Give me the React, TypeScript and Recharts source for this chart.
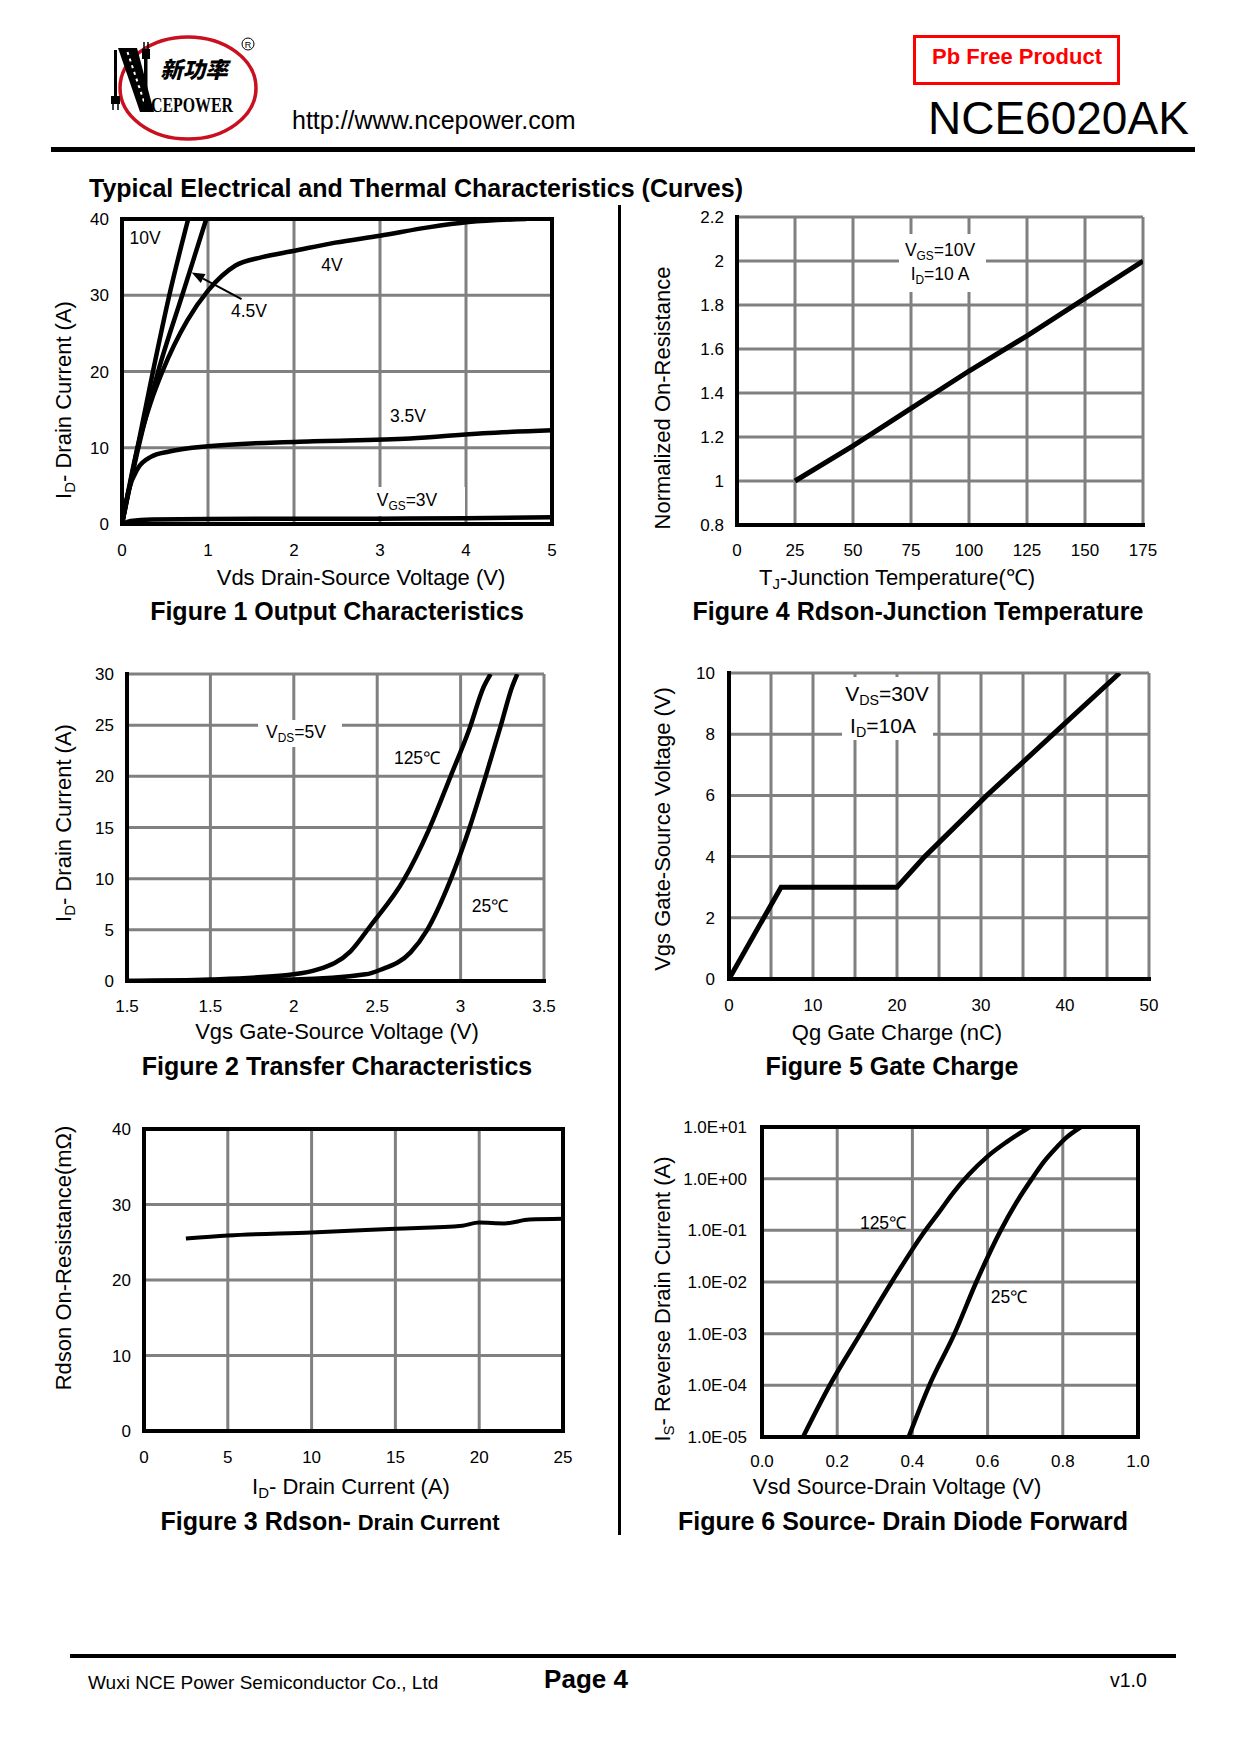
import React from 'react';
import { LineChart, Line, XAxis, YAxis, CartesianGrid, ReferenceLine } from 'recharts';

const FONT = '"Liberation Sans", Arial, Helvetica, sans-serif';

// ---------- Figure 1: Output Characteristics ----------
const f1XTicks = [0, 1, 2, 3, 4, 5];
const f1XLabels = ['0', '1', '2', '3', '4', '5'];
const f1YTicks = [0, 10, 20, 30, 40];
const f1YLabels = ['0', '10', '20', '30', '40'];
const f1Vds10V = [0, 0.18, 0.36, 0.55, 0.77];
const f1Id10V = [0, 10, 20, 30, 40];
const f1Vds45V = [0, 0.19, 0.42, 0.7, 0.98];
const f1Id45V = [0, 10, 20, 30, 40];
const f1Vds4V = [0, 0.18, 0.33, 0.47, 0.76, 1.0, 1.32, 1.63, 1.99, 2.48, 3.0, 3.56, 4.03, 4.7];
const f1Id4V = [0, 10, 15.8, 20, 26.7, 30.6, 33.9, 35, 35.8, 36.9, 37.8, 38.9, 39.6, 40];
const f1Vds35V = [0, 0.077, 0.185, 0.335, 0.55, 1.0, 2.06, 3.35, 4.2, 5];
const f1Id35V = [0, 4.4, 7.3, 8.8, 9.5, 10.2, 10.8, 11.2, 11.9, 12.3];
const f1Vds3V = [0, 0.1, 0.35, 1, 2, 3, 4, 5];
const f1Id3V = [0, 0.4, 0.6, 0.65, 0.7, 0.7, 0.75, 0.9];
const f1Arrow = [{ x: 1.39, y: 29.5 }, { x: 0.81, y: 33 }];

// ---------- Figure 4: Rdson vs Junction Temperature ----------
const f4XTicks = [0, 25, 50, 75, 100, 125, 150, 175];
const f4XLabels = ['0', '25', '50', '75', '100', '125', '150', '175'];
const f4YTicks = [0.8, 1.0, 1.2, 1.4, 1.6, 1.8, 2.0, 2.2];
const f4YLabels = ['0.8', '1', '1.2', '1.4', '1.6', '1.8', '2', '2.2'];
const f4Tj = [25, 50, 75, 100, 125, 150, 175];
const f4Rn = [1.0, 1.16, 1.33, 1.5, 1.66, 1.83, 2.0];

// ---------- Figure 2: Transfer Characteristics ----------
const f2XTicks = [1.0, 1.5, 2.0, 2.5, 3.0, 3.5];
const f2XLabels = ['1.5', '1.5', '2', '2.5', '3', '3.5'];
const f2YTicks = [0, 5, 10, 15, 20, 25, 30];
const f2YLabels = ['0', '5', '10', '15', '20', '25', '30'];
const f2Vgs125 = [1.0, 1.5, 2.0, 2.14, 2.34, 2.46, 2.66, 2.81, 2.94, 3.05, 3.14, 3.18];
const f2Id125 = [0, 0.15, 0.65, 1.1, 2.9, 5.4, 9.9, 14.8, 20, 24.5, 28.8, 30];
const f2Vgs25 = [1.0, 2.0, 2.43, 2.52, 2.7, 2.8, 2.94, 3.05, 3.15, 3.24, 3.31, 3.34];
const f2Id25 = [0, 0.15, 0.65, 1.1, 2.8, 5.0, 9.9, 14.8, 20, 24.9, 28.8, 30];

// ---------- Figure 5: Gate Charge ----------
const f5XTicks = [0, 5, 10, 15, 20, 25, 30, 35, 40, 45, 50];
const f5XLabels = ['0', '', '10', '', '20', '', '30', '', '40', '', '50'];
const f5YTicks = [0, 2, 4, 6, 8, 10];
const f5YLabels = ['0', '2', '4', '6', '8', '10'];
const f5Qg = [0, 6.2, 20, 23.3, 30.7, 38.6, 46.5];
const f5Vgs = [0, 3, 3, 4, 6, 8, 10];

// ---------- Figure 3: Rdson vs Drain Current ----------
const f3XTicks = [0, 5, 10, 15, 20, 25];
const f3XLabels = ['0', '5', '10', '15', '20', '25'];
const f3YTicks = [0, 10, 20, 30, 40];
const f3YLabels = ['0', '10', '20', '30', '40'];
const f3Id = [2.5, 5, 10, 15, 19, 20, 21.5, 23, 25];
const f3Rds = [25.5, 25.9, 26.3, 26.8, 27.2, 27.6, 27.5, 28.0, 28.1];

// ---------- Figure 6: Source-Drain Diode Forward ----------
const f6XTicks = [0, 0.2, 0.4, 0.6, 0.8, 1.0];
const f6XLabels = ['0.0', '0.2', '0.4', '0.6', '0.8', '1.0'];
const f6YTicks = [1e-5, 1e-4, 1e-3, 1e-2, 1e-1, 1, 10];
const f6YLabels = ['1.0E-05', '1.0E-04', '1.0E-03', '1.0E-02', '1.0E-01', '1.0E+00', '1.0E+01'];
const f6Vsd125 = [0.109, 0.18, 0.262, 0.345, 0.43, 0.47, 0.51, 0.55, 0.6, 0.65, 0.712];
const f6Is125 = [1e-5, 1e-4, 1e-3, 1e-2, 0.09, 0.22, 0.55, 1.2, 2.7, 5.1, 10];
const f6Vsd25 = [0.39, 0.445, 0.512, 0.57, 0.635, 0.677, 0.718, 0.75, 0.78, 0.81, 0.848];
const f6Is25 = [1e-5, 1e-4, 1e-3, 1e-2, 0.1, 0.35, 1, 2.14, 3.8, 6.3, 10];

const pts = (xs: number[], ys: number[]) => xs.map((x, i) => ({ x, y: ys[i] }));

const labeler = (ticks: number[], labels: string[]) => (v: number) => {
  const i = ticks.findIndex((t) => Math.abs(t - v) <= Math.abs(t) * 1e-6 + 1e-12);
  return i >= 0 ? labels[i] : '';
};

const ArrowShape = (p: any) => {
  const { x1, y1, x2, y2 } = p;
  if ([x1, y1, x2, y2].some((v) => typeof v !== 'number' || isNaN(v))) return <g />;
  const a = Math.atan2(y2 - y1, x2 - x1);
  const L = 13;
  const W = 5;
  const bx = x2 - L * Math.cos(a);
  const by = y2 - L * Math.sin(a);
  const ptsStr = `${x2},${y2} ${bx + W * Math.sin(a)},${by - W * Math.cos(a)} ${bx - W * Math.sin(a)},${by + W * Math.cos(a)}`;
  return (
    <g>
      <line x1={x1} y1={y1} x2={bx} y2={by} stroke="#000" strokeWidth={2} />
      <polygon points={ptsStr} fill="#000" />
    </g>
  );
};

type Series = { xs: number[]; ys: number[]; width?: number; curve?: 'monotone' | 'linear' };
type PlotProps = {
  rect: { l: number; t: number; r: number; b: number };
  xDomain: [number, number];
  xTicks: number[];
  xLabels: string[];
  yDomain: [number, number];
  yTicks: number[];
  yLabels: string[];
  yLog?: boolean;
  series: Series[];
  blackTop?: boolean;
  blackRight?: boolean;
  xGap: number;
  yGap: number;
  arrow?: { x: number; y: number }[];
};

function Plot(p: PlotProps) {
  const YW = 90;
  const MT = 14;
  const MR = 30;
  const XH = 50;
  const w = YW + (p.rect.r - p.rect.l) + MR;
  const h = MT + (p.rect.b - p.rect.t) + XH;
  const tickStyle = { fill: '#000', fontSize: 17, fontFamily: FONT };
  const axisLine = { stroke: '#000', strokeWidth: 4, strokeLinecap: 'square' as const };
  return (
    <div style={{ position: 'absolute', left: p.rect.l - YW, top: p.rect.t - MT }}>
      <LineChart width={w} height={h} margin={{ top: MT, right: MR, bottom: 0, left: 0 }}>
        <CartesianGrid stroke="#808080" strokeWidth={3} fill="none" />
        <XAxis
          type="number"
          dataKey="x"
          domain={p.xDomain}
          ticks={p.xTicks}
          interval={0}
          allowDataOverflow
          height={XH}
          tickSize={0}
          tickMargin={p.xGap}
          tickLine={false}
          axisLine={axisLine}
          tick={tickStyle}
          tickFormatter={labeler(p.xTicks, p.xLabels)}
        />
        <YAxis
          type="number"
          scale={p.yLog ? 'log' : 'linear'}
          domain={p.yDomain}
          ticks={p.yTicks}
          interval={0}
          allowDataOverflow
          width={YW}
          tickSize={0}
          tickMargin={p.yGap}
          tickLine={false}
          axisLine={axisLine}
          tick={tickStyle}
          tickFormatter={labeler(p.yTicks, p.yLabels)}
        />
        {p.series.map((s, i) => (
          <Line
            key={i}
            data={pts(s.xs, s.ys)}
            dataKey="y"
            type={s.curve ?? 'monotone'}
            stroke="#000"
            strokeWidth={s.width ?? 4.5}
            dot={false}
            activeDot={false}
            isAnimationActive={false}
          />
        ))}
        {p.blackTop && <ReferenceLine y={p.yDomain[1]} stroke="#000" strokeWidth={4} strokeLinecap="square" />}
        {p.blackRight && <ReferenceLine x={p.xDomain[1]} stroke="#000" strokeWidth={4} strokeLinecap="square" />}
        {p.arrow && <ReferenceLine segment={p.arrow} shape={ArrowShape} />}
      </LineChart>
    </div>
  );
}

type TProps = {
  x: number;
  y: number;
  size?: number;
  bold?: boolean;
  anchor?: 'start' | 'middle' | 'end';
  color?: string;
  rotate?: boolean;
  children: React.ReactNode;
};

function T({ x, y, size = 17.5, bold = false, anchor = 'middle', color = '#000', rotate = false, children }: TProps) {
  const tx = anchor === 'start' ? '0' : anchor === 'end' ? '-100%' : '-50%';
  return (
    <div
      style={{
        position: 'absolute',
        left: x,
        top: y,
        transform: `translate(${tx}, -50%)${rotate ? ' rotate(-90deg)' : ''}`,
        whiteSpace: 'nowrap',
        lineHeight: 1,
        fontSize: size,
        fontWeight: bold ? 'bold' : 'normal',
        color,
        fontFamily: FONT,
      }}
    >
      {children}
    </div>
  );
}

const Sub = ({ c }: { c: string }) => (
  <span style={{ fontSize: '0.68em', position: 'relative', top: '0.3em' }}>{c}</span>
);

const WhiteBox = ({ x1, y1, x2, y2 }: { x1: number; y1: number; x2: number; y2: number }) => (
  <div style={{ position: 'absolute', left: x1, top: y1, width: x2 - x1, height: y2 - y1, background: '#fff' }} />
);

const Bar = ({ x, y, w, h }: { x: number; y: number; w: number; h: number }) => (
  <div style={{ position: 'absolute', left: x, top: y, width: w, height: h, background: '#000' }} />
);

function Logo() {
  return (
    <svg width={170} height={115} style={{ position: 'absolute', left: 100, top: 30 }}>
      <ellipse cx={88} cy={58} rx={68} ry={51} fill="none" stroke="#c8101e" strokeWidth={3.5} />
      <polygon points="18,18 37,18 54,82 40,82" fill="#000" />
      <line x1={27.5} y1={22} x2={46.5} y2={79} stroke="#fff" strokeWidth={2} strokeDasharray="3 4" />
      <line x1={15.5} y1={20} x2={15.5} y2={67} stroke="#000" strokeWidth={3} />
      <rect x={11} y={66} width={9} height={8} fill="#000" />
      <line x1={13} y1={74} x2={13} y2={80} stroke="#000" strokeWidth={1.5} />
      <line x1={18} y1={74} x2={18} y2={80} stroke="#000" strokeWidth={1.5} />
      <rect x={44} y={28} width={3.5} height={54} fill="#000" />
      <rect x={42} y={19} width={8} height={10} fill="#000" />
      <line x1={44} y1={12} x2={44} y2={19} stroke="#000" strokeWidth={1.5} />
      <line x1={48} y1={12} x2={48} y2={19} stroke="#000" strokeWidth={1.5} />
      <text
        x={94}
        y={48}
        fontSize={22.5}
        fontWeight={900}
        fontStyle="italic"
        textAnchor="middle"
        fontFamily='"Noto Sans CJK SC", sans-serif'
        fill="#000"
      >
        新功率
      </text>
      <text
        x={51}
        y={82}
        fontSize={22}
        fontWeight="bold"
        textLength={82}
        lengthAdjust="spacingAndGlyphs"
        fontFamily='"Liberation Serif", serif'
        fill="#000"
      >
        CEPOWER
      </text>
      <circle cx={148} cy={14} r={6} fill="none" stroke="#000" strokeWidth={1} />
      <text x={148} y={17.5} fontSize={9} textAnchor="middle" fontFamily={FONT} fill="#000">
        R
      </text>
    </svg>
  );
}

export default function App() {
  return (
    <div
      style={{
        position: 'absolute',
        left: 0,
        top: 0,
        width: 1240,
        height: 1754,
        background: '#fff',
        fontFamily: FONT,
        overflow: 'hidden',
      }}
    >
      {/* Header */}
      <Logo />
      <T x={292} y={120} size={25} anchor="start">http://www.ncepower.com</T>
      <div
        style={{
          position: 'absolute',
          left: 913,
          top: 35,
          width: 207,
          height: 50,
          border: '3px solid #ff0000',
          boxSizing: 'border-box',
        }}
      />
      <T x={1017} y={57} size={22} bold color="#ff0000">Pb Free Product</T>
      <T x={928} y={118} size={46} anchor="start">NCE6020AK</T>
      <Bar x={51} y={147} w={1144} h={4.5} />

      <T x={89} y={188} size={25} bold anchor="start">
        Typical Electrical and Thermal Characteristics (Curves)
      </T>
      <Bar x={618.3} y={205} w={2.5} h={1330} />

      {/* Figure 1 */}
      <Plot
        rect={{ l: 122, t: 219, r: 552, b: 524 }}
        xDomain={[0, 5]}
        xTicks={f1XTicks}
        xLabels={f1XLabels}
        yDomain={[0, 40]}
        yTicks={f1YTicks}
        yLabels={f1YLabels}
        series={[
          { xs: f1Vds10V, ys: f1Id10V },
          { xs: f1Vds45V, ys: f1Id45V },
          { xs: f1Vds4V, ys: f1Id4V },
          { xs: f1Vds35V, ys: f1Id35V },
          { xs: f1Vds3V, ys: f1Id3V },
        ]}
        blackTop
        blackRight
        xGap={20}
        yGap={13}
        arrow={f1Arrow}
      />
      <T x={145} y={239}>10V</T>
      <T x={332} y={266}>4V</T>
      <T x={249} y={312}>4.5V</T>
      <T x={408} y={417}>3.5V</T>
      <WhiteBox x1={371} y1={487} x2={465} y2={516} />
      <T x={407} y={501}>
        V<Sub c="GS" />=3V
      </T>
      <T x={64} y={400} size={22} rotate>
        I<Sub c="D" />- Drain Current (A)
      </T>
      <T x={361} y={578} size={22}>Vds Drain-Source Voltage (V)</T>
      <T x={337} y={611} size={25} bold>Figure 1 Output Characteristics</T>

      {/* Figure 4 */}
      <Plot
        rect={{ l: 737, t: 217, r: 1143, b: 525 }}
        xDomain={[0, 175]}
        xTicks={f4XTicks}
        xLabels={f4XLabels}
        yDomain={[0.8, 2.2]}
        yTicks={f4YTicks}
        yLabels={f4YLabels}
        series={[{ xs: f4Tj, ys: f4Rn, width: 5, curve: 'linear' }]}
        xGap={19}
        yGap={13}
      />
      <WhiteBox x1={899} y1={234} x2={986} y2={292} />
      <T x={940} y={251}>
        V<Sub c="GS" />=10V
      </T>
      <T x={940} y={275}>
        I<Sub c="D" />=10 A
      </T>
      <T x={663} y={398} size={22} rotate>Normalized On-Resistance</T>
      <T x={897} y={578} size={22}>
        T<Sub c="J" />-Junction Temperature(℃)
      </T>
      <T x={918} y={611} size={25} bold>Figure 4 Rdson-Junction Temperature</T>

      {/* Figure 2 */}
      <Plot
        rect={{ l: 127, t: 674, r: 544, b: 981 }}
        xDomain={[1, 3.5]}
        xTicks={f2XTicks}
        xLabels={f2XLabels}
        yDomain={[0, 30]}
        yTicks={f2YTicks}
        yLabels={f2YLabels}
        series={[
          { xs: f2Vgs125, ys: f2Id125 },
          { xs: f2Vgs25, ys: f2Id25 },
        ]}
        xGap={19}
        yGap={13}
      />
      <WhiteBox x1={258} y1={720} x2={342} y2={747} />
      <T x={296} y={733}>
        V<Sub c="DS" />=5V
      </T>
      <T x={417} y={759}>125℃</T>
      <T x={490} y={907}>25℃</T>
      <T x={64} y={823} size={22} rotate>
        I<Sub c="D" />- Drain Current (A)
      </T>
      <T x={337} y={1032} size={22}>Vgs Gate-Source Voltage (V)</T>
      <T x={337} y={1066} size={25} bold>Figure 2 Transfer Characteristics</T>

      {/* Figure 5 */}
      <Plot
        rect={{ l: 729, t: 673, r: 1149, b: 979 }}
        xDomain={[0, 50]}
        xTicks={f5XTicks}
        xLabels={f5XLabels}
        yDomain={[0, 10]}
        yTicks={f5YTicks}
        yLabels={f5YLabels}
        series={[{ xs: f5Qg, ys: f5Vgs, width: 5, curve: 'linear' }]}
        xGap={20}
        yGap={14}
      />
      <WhiteBox x1={842} y1={677} x2={933} y2={740} />
      <T x={887} y={693} size={21}>
        V<Sub c="DS" />=30V
      </T>
      <T x={883} y={725} size={21}>
        I<Sub c="D" />=10A
      </T>
      <T x={663} y={829} size={22} rotate>Vgs Gate-Source Voltage (V)</T>
      <T x={897} y={1033} size={22}>Qg Gate Charge (nC)</T>
      <T x={892} y={1066} size={25} bold>Figure 5 Gate Charge</T>

      {/* Figure 3 */}
      <Plot
        rect={{ l: 144, t: 1129, r: 563, b: 1431 }}
        xDomain={[0, 25]}
        xTicks={f3XTicks}
        xLabels={f3XLabels}
        yDomain={[0, 40]}
        yTicks={f3YTicks}
        yLabels={f3YLabels}
        series={[{ xs: f3Id, ys: f3Rds, width: 4 }]}
        blackTop
        blackRight
        xGap={20}
        yGap={13}
      />
      <T x={64} y={1258} size={22} rotate>Rdson On-Resistance(mΩ)</T>
      <T x={351} y={1487} size={22}>
        I<Sub c="D" />- Drain Current (A)
      </T>
      <T x={330} y={1521} size={25} bold>
        Figure 3 Rdson- <span style={{ fontSize: 22 }}>Drain Current</span>
      </T>

      {/* Figure 6 */}
      <Plot
        rect={{ l: 762, t: 1127, r: 1138, b: 1437 }}
        xDomain={[0, 1]}
        xTicks={f6XTicks}
        xLabels={f6XLabels}
        yDomain={[1e-5, 10]}
        yTicks={f6YTicks}
        yLabels={f6YLabels}
        yLog
        series={[
          { xs: f6Vsd125, ys: f6Is125 },
          { xs: f6Vsd25, ys: f6Is25 },
        ]}
        blackTop
        blackRight
        xGap={18}
        yGap={15}
      />
      <T x={883} y={1224}>125℃</T>
      <T x={1009} y={1298}>25℃</T>
      <T x={663} y={1299} size={22} rotate>
        I<Sub c="S" />- Reverse Drain Current (A)
      </T>
      <T x={897} y={1487} size={22}>Vsd Source-Drain Voltage (V)</T>
      <T x={903} y={1521} size={25} bold>Figure 6 Source- Drain Diode Forward</T>

      {/* Footer */}
      <Bar x={70} y={1654} w={1106} h={4} />
      <T x={88} y={1682} size={19} anchor="start">Wuxi NCE Power Semiconductor Co., Ltd</T>
      <T x={586} y={1679} size={26} bold>Page 4</T>
      <T x={1110} y={1681} size={19.5} anchor="start">v1.0</T>
    </div>
  );
}
